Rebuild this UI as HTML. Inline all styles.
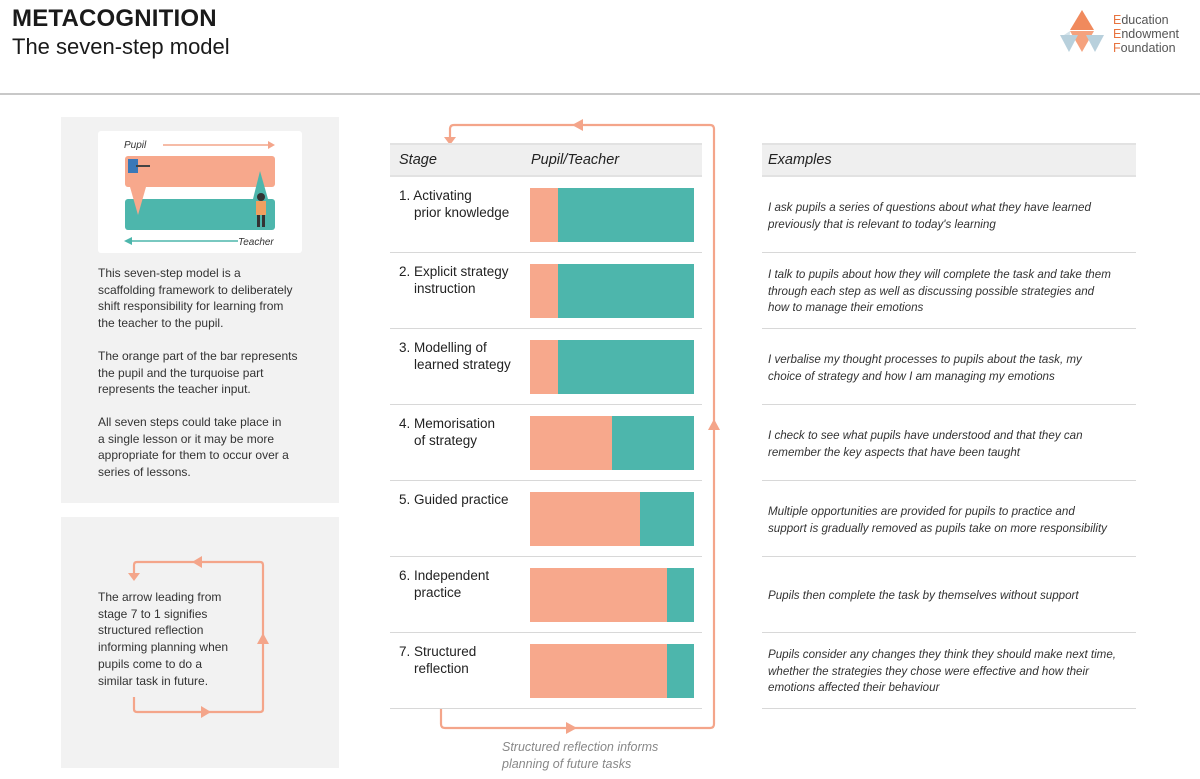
<!DOCTYPE html>
<html><head><meta charset="utf-8"><style>
*{margin:0;padding:0;box-sizing:border-box}
body{width:1200px;height:779px;background:#fff;font-family:"Liberation Sans",sans-serif;position:relative;overflow:hidden;color:#222}
.a{position:absolute}
.t1{left:12px;top:5px;font-size:24px;font-weight:bold;color:#1a1a1a;letter-spacing:.2px}
.t2{left:12px;top:34px;font-size:22px;color:#1a1a1a}
.box{background:#f2f2f2}
.p{font-size:12px;line-height:16.7px;color:#333}
.hdr{background:#efefef;border-top:2px solid #e2e2e2;border-bottom:2px solid #e2e2e2;font-style:italic;font-size:14.5px;color:#222}
.div{height:1px;background:#d8d8d8}
.lab{font-size:13.5px;line-height:17px;color:#222}
.ex{font-size:11.6px;font-style:italic;line-height:16.7px;color:#333}
</style></head><body>
<div class="a t1">METACOGNITION</div>
<div class="a t2">The seven-step model</div>
<!-- logo -->
<svg class="a" style="left:1058px;top:8px" width="50" height="48">
<polygon points="24,2 12,22 36,22" fill="#f08a5d"/>
<polygon points="12,23 36,23 24,44" fill="#f5a27e"/>
<polygon points="2,27 20,27 11,44" fill="#b8d0dc"/>
<polygon points="28,27 46,27 37,44" fill="#b8d0dc"/>
<polygon points="6,27 12,23 11,44" fill="#b8d0dc" opacity=".6"/>
</svg>
<div class="a" style="left:1113px;top:13px;font-size:12.5px;line-height:14px;color:#555">
<div><span style="color:#e8733f">E</span>ducation</div><div><span style="color:#e8733f">E</span>ndowment</div><div><span style="color:#e8733f">F</span>oundation</div></div>
<div class="a" style="left:0;top:93px;width:1200px;height:2px;background:#c8c8c8"></div>

<!-- left box 1 -->
<div class="a box" style="left:61px;top:117px;width:278px;height:386px"></div>
<div class="a" style="left:98px;top:131px;width:204px;height:122px;background:#fff;border-radius:3px"></div>
<svg class="a" style="left:98px;top:131px" width="204" height="122">
<text x="26" y="17" font-size="10" font-style="italic" fill="#333" font-family="Liberation Sans">Pupil</text>
<line x1="65" y1="14" x2="175" y2="14" stroke="#f4a58a" stroke-width="1.5"/>
<polygon points="177,14 170,10 170,18" fill="#f4a58a"/>
<rect x="27" y="25" width="150" height="31" rx="3" fill="#f7a88c"/>
<rect x="27" y="68" width="150" height="31" rx="3" fill="#4db6ac"/>
<polygon points="32,56 48,56 40,84" fill="#f7a88c"/>
<polygon points="155,68 170,68 162,40" fill="#4db6ac"/>
<rect x="30" y="28" width="10" height="14" fill="#3a78b8"/>
<rect x="38" y="34" width="14" height="2" fill="#444"/>
<circle cx="163" cy="66" r="4" fill="#333"/>
<rect x="158" y="70" width="10" height="14" fill="#f0a060"/>
<rect x="159" y="84" width="3" height="12" fill="#333"/><rect x="164" y="84" width="3" height="12" fill="#333"/>
<line x1="30" y1="110" x2="140" y2="110" stroke="#4db6ac" stroke-width="1.5"/>
<polygon points="26,110 34,106 34,114" fill="#4db6ac"/>
<text x="140" y="114" font-size="10" font-style="italic" fill="#333" font-family="Liberation Sans">Teacher</text>
</svg>
<div class="a p" style="left:98px;top:265px;width:220px">This seven-step model is a<br>scaffolding framework to deliberately<br>shift responsibility for learning from<br>the teacher to the pupil.</div>
<div class="a p" style="left:98px;top:348px;width:220px">The orange part of the bar represents<br>the pupil and the turquoise part<br>represents the teacher input.</div>
<div class="a p" style="left:98px;top:414px;width:220px">All seven steps could take place in<br>a single lesson or it may be more<br>appropriate for them to occur over a<br>series of lessons.</div>

<!-- left box 2 -->
<div class="a box" style="left:61px;top:517px;width:278px;height:251px"></div>
<svg class="a" style="left:61px;top:517px" width="278" height="251">
<g fill="none" stroke="#f4a58a" stroke-width="2.2">
<path d="M73,58 V48 Q73,45 76,45 H199 Q202,45 202,48 V192 Q202,195 199,195 H76 Q73,195 73,192 V180"/>
</g>
<polygon points="67,56 79,56 73,64" fill="#f4a58a"/>
<polygon points="131,45 141,39 141,51" fill="#f4a58a"/>
<polygon points="202,116 196,127 208,127" fill="#f4a58a"/>
<polygon points="150,195 140,189 140,201" fill="#f4a58a"/>
</svg>
<div class="a p" style="left:98px;top:589px;width:200px;font-size:12px">The arrow leading from<br>stage 7 to 1 signifies<br>structured reflection<br>informing planning when<br>pupils come to do a<br>similar task in future.</div>

<!-- big arrow -->
<svg class="a" style="left:430px;top:115px" width="300" height="625">
<path d="M20,24 V14 Q20,10 24,10 H280 Q284,10 284,14 V609 Q284,613 280,613 H15 Q11,613 11,609 V594" fill="none" stroke="#f4a58a" stroke-width="2.2"/>
<polygon points="14,22 26,22 20,30" fill="#f4a58a"/>
<polygon points="142,10 153,4 153,16" fill="#f4a58a"/>
<polygon points="284,304 278,315 290,315" fill="#f4a58a"/>
<polygon points="147,613 136,607 136,619" fill="#f4a58a"/>
</svg>

<!-- table -->
<div class="a hdr" style="left:390px;top:143px;width:312px;height:34px"><span class="a" style="left:9px;top:7px">Stage</span><span class="a" style="left:141px;top:7px">Pupil/Teacher</span></div>
<div class="a hdr" style="left:762px;top:143px;width:374px;height:34px"><span class="a" style="left:6px;top:7px">Examples</span></div>

<div class="a div" style="left:390px;top:252px;width:312px"></div>
<div class="a div" style="left:390px;top:328px;width:312px"></div>
<div class="a div" style="left:390px;top:404px;width:312px"></div>
<div class="a div" style="left:390px;top:480px;width:312px"></div>
<div class="a div" style="left:390px;top:556px;width:312px"></div>
<div class="a div" style="left:390px;top:632px;width:312px"></div>
<div class="a div" style="left:390px;top:708px;width:312px"></div>
<div class="a div" style="left:762px;top:252px;width:374px"></div>
<div class="a div" style="left:762px;top:328px;width:374px"></div>
<div class="a div" style="left:762px;top:404px;width:374px"></div>
<div class="a div" style="left:762px;top:480px;width:374px"></div>
<div class="a div" style="left:762px;top:556px;width:374px"></div>
<div class="a div" style="left:762px;top:632px;width:374px"></div>
<div class="a div" style="left:762px;top:708px;width:374px"></div>

<div class="a lab" style="left:399px;top:187px">1. Activating<br>&nbsp;&nbsp;&nbsp;&nbsp;prior knowledge</div>
<div class="a lab" style="left:399px;top:263px">2. Explicit strategy<br>&nbsp;&nbsp;&nbsp;&nbsp;instruction</div>
<div class="a lab" style="left:399px;top:339px">3. Modelling of<br>&nbsp;&nbsp;&nbsp;&nbsp;learned strategy</div>
<div class="a lab" style="left:399px;top:415px">4. Memorisation<br>&nbsp;&nbsp;&nbsp;&nbsp;of strategy</div>
<div class="a lab" style="left:399px;top:491px">5. Guided practice</div>
<div class="a lab" style="left:399px;top:567px">6. Independent<br>&nbsp;&nbsp;&nbsp;&nbsp;practice</div>
<div class="a lab" style="left:399px;top:643px">7. Structured<br>&nbsp;&nbsp;&nbsp;&nbsp;reflection</div>

<svg class="a" style="left:530px;top:188px" width="164" height="510">
<g fill="#4db6ac"><rect x="0" y="0" width="164" height="54"/><rect x="0" y="76" width="164" height="54"/><rect x="0" y="152" width="164" height="54"/><rect x="0" y="228" width="164" height="54"/><rect x="0" y="304" width="164" height="54"/><rect x="0" y="380" width="164" height="54"/><rect x="0" y="456" width="164" height="54"/></g>
<g fill="#f7a88c"><rect x="0" y="0" width="28" height="54"/><rect x="0" y="76" width="28" height="54"/><rect x="0" y="152" width="28" height="54"/><rect x="0" y="228" width="82" height="54"/><rect x="0" y="304" width="110" height="54"/><rect x="0" y="380" width="137" height="54"/><rect x="0" y="456" width="137" height="54"/></g>
</svg>

<div class="a ex" style="left:768px;top:200px">I ask pupils a series of questions about what they have learned<br>previously that is relevant to today's learning</div>
<div class="a ex" style="left:768px;top:267px">I talk to pupils about how they will complete the task and take them<br>through each step as well as discussing possible strategies and<br>how to manage their emotions</div>
<div class="a ex" style="left:768px;top:352px">I verbalise my thought processes to pupils about the task, my<br>choice of strategy and how I am managing my emotions</div>
<div class="a ex" style="left:768px;top:428px">I check to see what pupils have understood and that they can<br>remember the key aspects that have been taught</div>
<div class="a ex" style="left:768px;top:504px">Multiple opportunities are provided for pupils to practice and<br>support is gradually removed as pupils take on more responsibility</div>
<div class="a ex" style="left:768px;top:588px">Pupils then complete the task by themselves without support</div>
<div class="a ex" style="left:768px;top:647px">Pupils consider any changes they think they should make next time,<br>whether the strategies they chose were effective and how their<br>emotions affected their behaviour</div>

<div class="a" style="left:502px;top:739px;font-size:12.5px;font-style:italic;line-height:17px;color:#888">Structured reflection informs<br>planning of future tasks</div>
</body></html>
